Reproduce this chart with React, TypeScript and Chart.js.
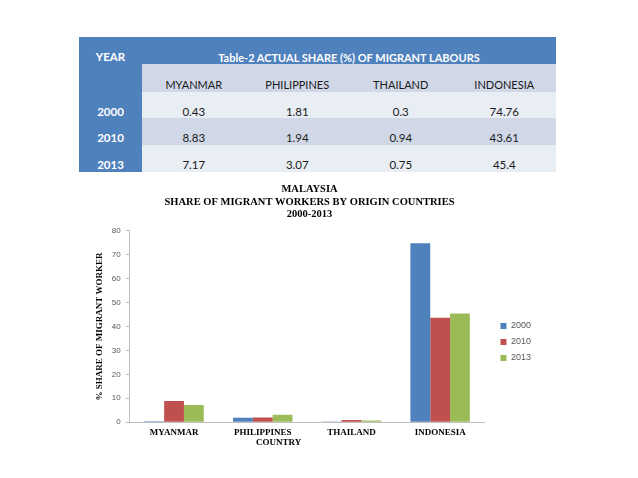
import React, { useEffect, useRef } from "react";
import { Chart, registerables } from "chart.js";

Chart.register(...registerables);

const countries = ["MYANMAR", "PHILIPPINES", "THAILAND", "INDONESIA"];
const years = ["2000", "2010", "2013"];
const share2000 = [0.43, 1.81, 0.3, 74.76];
const share2010 = [8.83, 1.94, 0.94, 43.61];
const share2013 = [7.17, 3.07, 0.75, 45.4];
const seriesValues = [share2000, share2010, share2013];
const seriesColors = ["#4f81bd", "#c0504d", "#9bbb59"];

const tableYearHeader = "YEAR";
const tableTitle = "Table-2 ACTUAL SHARE (%) OF MIGRANT LABOURS";
const chartTitle = ["MALAYSIA", "SHARE OF MIGRANT WORKERS BY ORIGIN COUNTRIES", "2000-2013"];
const yAxisTitle = "% SHARE OF MIGRANT WORKER";
const xAxisTitle = "COUNTRY";
const yMin = 0;
const yMax = 80;
const yStep = 10;

const BLUE = "#4f81bd";
const LAV = "#d0d8e8";
const LIGHT = "#e9edf4";

const tableFont = "Lato, 'Open Sans', sans-serif";

const xTitlePlugin = {
  id: "xTitleOffset",
  afterDraw(chart: any) {
    const xs = chart.scales.x;
    const ctx = chart.ctx;
    ctx.save();
    ctx.font = "bold 9px 'Liberation Serif'";
    ctx.fillStyle = "#000";
    ctx.textAlign = "center";
    ctx.textBaseline = "middle";
    ctx.fillText(xAxisTitle, xs.left + (xs.right - xs.left) * 0.42, xs.bottom);
    ctx.restore();
  },
};

function DataTable() {
  const cell = (bg: string, color: string, bold: boolean, extra: any = {}) => ({
    background: bg,
    color,
    fontWeight: bold ? 700 : 400,
    display: "flex",
    alignItems: "center",
    justifyContent: "center",
    paddingTop: 13,
    boxSizing: "border-box" as const,
    lineHeight: 1,
    fontSize: 11,
    fontFamily: tableFont,
    whiteSpace: "nowrap" as const,
    ...extra,
  });
  const rowBgs = [LIGHT, LAV, LIGHT];
  return (
    <div
      style={{
        position: "absolute",
        left: 79,
        top: 37,
        width: 477,
        height: 135,
        display: "grid",
        gridTemplateColumns: "63px repeat(4, 1fr)",
        gridTemplateRows: "27px 28px 26px 27px 27px",
      }}
    >
      <div style={cell(BLUE, "#fff", true, { fontSize: 11.5 })}>{tableYearHeader}</div>
      <div style={cell(BLUE, "#fff", true, { gridColumn: "2 / span 4" })}>{tableTitle}</div>
      <div style={cell(BLUE, "#fff", true)}></div>
      {countries.map((c) => (
        <div key={c} style={cell(LAV, "#1a1a1a", false)}>
          {c}
        </div>
      ))}
      {years.map((y, i) => (
        <React.Fragment key={y}>
          <div style={cell(BLUE, "#fff", true, { fontSize: 11.5 })}>{y}</div>
          {seriesValues[i].map((v, j) => (
            <div key={j} style={cell(rowBgs[i], "#1a1a1a", false, { fontSize: 11.5 })}>
              {String(v)}
            </div>
          ))}
        </React.Fragment>
      ))}
    </div>
  );
}

export default function App() {
  const ref = useRef<HTMLCanvasElement | null>(null);

  useEffect(() => {
    if (!ref.current) return;
    const chart = new Chart(ref.current, {
      type: "bar",
      data: {
        labels: countries,
        datasets: years.map((y, i) => ({
          label: y,
          data: seriesValues[i],
          backgroundColor: seriesColors[i],
          borderWidth: 0,
          barPercentage: 1,
          categoryPercentage: 0.67,
        })),
      },
      options: {
        responsive: false,
        animation: false,
        devicePixelRatio: 1,
        layout: { padding: { left: 0, right: 17, top: 0, bottom: 10 } },
        plugins: {
          title: {
            display: true,
            text: chartTitle,
            font: { family: "'Liberation Serif'", size: 10.5, weight: "bold", lineHeight: 1.2 },
            color: "#000",
            padding: { top: 7, bottom: 10 },
          },
          legend: {
            display: true,
            position: "right",
            fullSize: false,
            align: "center",
            title: {
              display: true,
              text: "",
              font: { family: "'Liberation Sans'", size: 9 },
              padding: { top: 10, bottom: 10 },
            },
            labels: {
              boxWidth: 6,
              boxHeight: 6,
              padding: 7,
              font: { family: "'Liberation Sans'", size: 9 },
              color: "#595959",
            },
          },
          tooltip: { enabled: false },
        },
        scales: {
          x: {
            grid: { display: false, drawTicks: false },
            border: { display: true, color: "#bfbfbf", width: 1 },
            ticks: {
              font: { family: "'Liberation Serif'", size: 9, weight: "bold" },
              color: "#000",
              padding: 5,
            },
          },
          y: {
            min: yMin,
            max: yMax,
            ticks: {
              stepSize: yStep,
              font: { family: "'Liberation Sans'", size: 8 },
              color: "#595959",
              padding: 5,
            },
            grid: {
              display: true,
              drawOnChartArea: false,
              drawTicks: true,
              tickLength: 4,
              color: "#bfbfbf",
            },
            border: { display: true, color: "#bfbfbf", width: 1 },
            title: {
              display: true,
              text: yAxisTitle,
              font: { family: "'Liberation Serif'", size: 9, weight: "bold" },
              color: "#000",
              padding: { top: 16, bottom: 2 },
            },
          },
          y2: {
            position: "right",
            display: true,
            min: yMin,
            max: yMax,
            grid: { display: false, drawTicks: false },
            border: { display: false },
            ticks: { display: false },
            afterFit(s: any) {
              s.width = 9;
            },
          },
        },
      } as any,
      plugins: [xTitlePlugin],
    });
    return () => chart.destroy();
  }, []);

  return (
    <div style={{ position: "absolute", left: 0, top: 0, width: 638, height: 478, background: "#fff" }}>
      <DataTable />
      <canvas
        ref={ref}
        width={480}
        height={277}
        style={{ position: "absolute", left: 78, top: 176, width: 480, height: 277 }}
      />
    </div>
  );
}
